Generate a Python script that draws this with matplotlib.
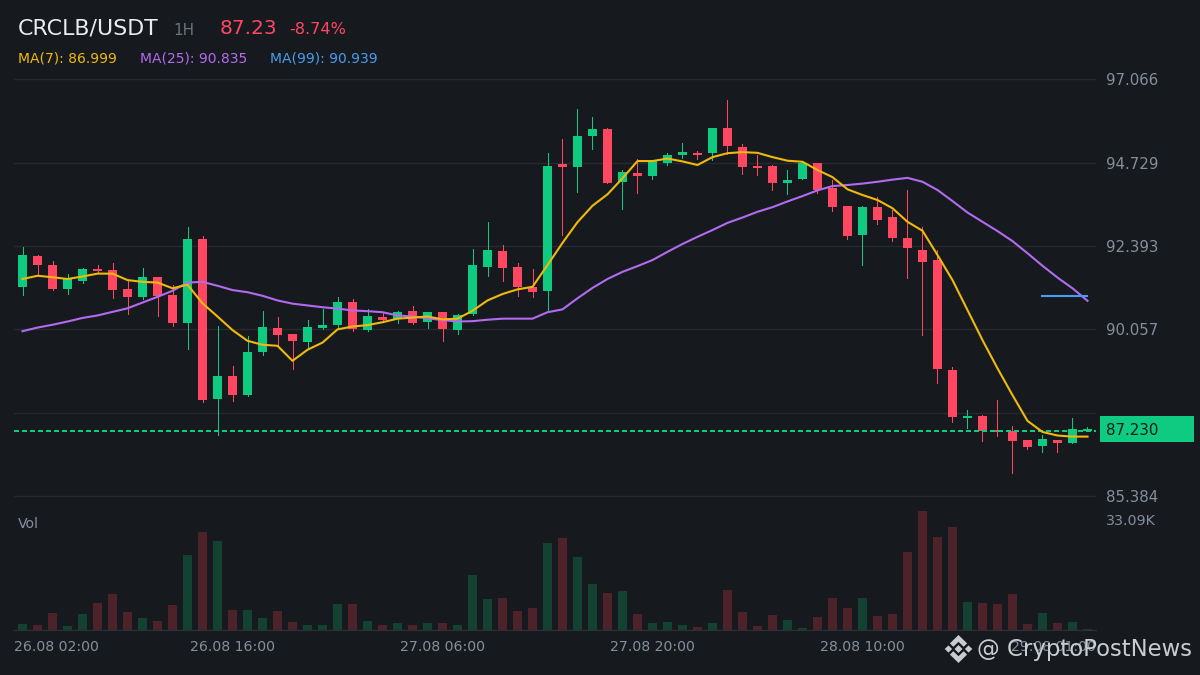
"""
CRCLB/USDT 1H candlestick chart with moving averages and a volume panel.
"""

import matplotlib
matplotlib.use("Agg")
import matplotlib.pyplot as plt
from matplotlib.patches import Polygon, Rectangle

# -----------------------------
# Data
# -----------------------------
opens = [
    91.25, 92.11, 91.86, 91.19, 91.41, 91.75, 91.72, 91.19, 90.97, 91.53, 91.02, 90.24,
    92.59, 88.11, 88.76, 88.22, 89.43, 90.10, 89.93, 89.71, 90.10, 90.18, 90.83, 90.04,
    90.41, 90.35, 90.58, 90.27, 90.55, 90.04, 90.49, 91.81, 92.25, 91.81, 91.25, 91.13,
    94.69, 94.60, 95.47, 95.67, 94.18, 94.44, 94.35, 94.72, 94.94, 94.99, 94.99, 95.70,
    95.16, 94.63, 94.63, 94.16, 94.27, 94.72, 94.02, 93.51, 92.70, 93.48, 93.20, 92.62,
    92.28, 92.00, 88.92, 87.58, 87.64, 87.25, 87.22, 86.97, 86.80, 86.97, 86.88, 87.22,
]
highs = [
    92.37, 92.14, 91.97, 91.61, 91.78, 91.86, 91.92, 91.44, 91.78, 91.53, 91.30, 92.93,
    92.67, 90.15, 89.04, 89.88, 90.58, 90.41, 89.93, 90.32, 90.63, 90.97, 90.91, 90.63,
    90.52, 90.58, 90.71, 90.55, 90.55, 90.49, 92.31, 93.06, 92.42, 91.92, 91.75, 94.99,
    95.39, 96.23, 96.00, 95.70, 94.52, 94.83, 94.80, 94.99, 95.28, 95.05, 95.70, 96.48,
    95.25, 94.94, 94.66, 94.52, 94.74, 94.72, 94.24, 93.51, 93.51, 93.77, 93.40, 93.96,
    92.93, 92.28, 89.01, 87.80, 87.66, 88.08, 87.36, 86.97, 87.10, 86.97, 87.58, 87.33,
]
lows = [
    91.02, 91.58, 91.16, 91.05, 91.36, 91.64, 90.94, 90.49, 90.91, 90.43, 90.15, 89.51,
    88.03, 87.10, 88.06, 88.20, 89.34, 89.62, 88.95, 89.54, 90.07, 90.07, 90.01, 90.01,
    90.27, 90.24, 90.21, 90.10, 89.74, 89.93, 90.46, 91.55, 91.41, 90.99, 90.97, 90.55,
    92.70, 93.90, 95.11, 94.16, 93.43, 93.88, 94.27, 94.66, 94.86, 94.83, 94.80, 94.97,
    94.41, 94.38, 93.96, 93.85, 94.27, 93.88, 93.37, 92.59, 91.86, 93.01, 92.53, 91.50,
    89.90, 88.56, 87.47, 87.30, 86.94, 87.08, 86.04, 86.71, 86.63, 86.63, 86.88, 87.22,
]
closes = [
    92.14, 91.86, 91.19, 91.47, 91.75, 91.69, 91.16, 90.97, 91.53, 90.99, 90.24, 92.59,
    88.08, 88.76, 88.22, 89.43, 90.13, 89.90, 89.74, 90.13, 90.18, 90.83, 90.07, 90.43,
    90.32, 90.55, 90.24, 90.55, 90.07, 90.46, 91.86, 92.28, 91.78, 91.25, 91.11, 94.63,
    94.60, 95.47, 95.67, 94.16, 94.46, 94.35, 94.77, 94.94, 95.02, 94.94, 95.70, 95.19,
    94.60, 94.58, 94.16, 94.24, 94.72, 93.96, 93.48, 92.67, 93.48, 93.12, 92.62, 92.34,
    91.95, 88.95, 87.61, 87.64, 87.22, 87.19, 86.94, 86.77, 87.00, 86.88, 87.27, 87.27,
]
volumes = [
    1.68, 1.40, 4.77, 1.12, 4.49, 7.57, 10.09, 5.05, 3.36, 2.52, 7.01, 20.75,
    27.20, 24.68, 5.61, 5.61, 3.36, 5.33, 2.24, 1.40, 1.40, 7.29, 7.29, 2.52,
    1.40, 1.96, 1.40, 1.96, 1.96, 1.40, 15.42, 8.69, 8.97, 5.33, 6.17, 24.11,
    25.52, 20.19, 12.90, 10.37, 10.94, 4.49, 1.96, 2.24, 1.40, 0.84, 1.96, 11.22,
    5.05, 1.12, 4.21, 2.80, 0.56, 3.65, 8.97, 6.17, 8.97, 3.93, 4.49, 21.59,
    33.09, 25.80, 28.60, 7.85, 7.57, 7.29, 10.09, 1.68, 4.77, 1.96, 2.24, 0.28,
]
ma7 = [
    91.47, 91.56, 91.52, 91.47, 91.54, 91.62, 91.62, 91.44, 91.39, 91.37, 91.21, 91.31,
    90.79, 90.42, 90.04, 89.74, 89.63, 89.60, 89.18, 89.49, 89.69, 90.06, 90.14, 90.18,
    90.26, 90.36, 90.39, 90.42, 90.34, 90.36, 90.58, 90.87, 91.05, 91.18, 91.25, 91.86,
    92.48, 93.06, 93.52, 93.84, 94.29, 94.77, 94.77, 94.84, 94.76, 94.66, 94.88, 94.99,
    95.02, 95.00, 94.88, 94.78, 94.75, 94.52, 94.32, 93.98, 93.82, 93.68, 93.45, 93.07,
    92.82, 92.14, 91.44, 90.60, 89.76, 88.97, 88.22, 87.50, 87.19, 87.09, 87.06, 87.06,
]
ma25 = [
    90.01, 90.11, 90.19, 90.28, 90.38, 90.45, 90.55, 90.65, 90.81, 90.97, 91.14, 91.37,
    91.39, 91.28, 91.16, 91.10, 91.00, 90.87, 90.78, 90.73, 90.68, 90.64, 90.59, 90.57,
    90.54, 90.45, 90.42, 90.37, 90.32, 90.28, 90.29, 90.33, 90.36, 90.36, 90.36, 90.54,
    90.62, 90.93, 91.22, 91.47, 91.67, 91.83, 92.00, 92.23, 92.45, 92.65, 92.84, 93.04,
    93.19, 93.35, 93.48, 93.64, 93.79, 93.95, 94.07, 94.10, 94.14, 94.19, 94.25, 94.30,
    94.19, 93.96, 93.65, 93.33, 93.07, 92.81, 92.53, 92.19, 91.84, 91.51, 91.21, 90.86,
]
# MA(99) only has values for the last few candles
ma99_index = [68, 69, 70, 71]
ma99 = [90.99, 90.99, 90.99, 90.99]

price_ticks = [85.384, 87.720, 90.057, 92.393, 94.729, 97.066]
price_labels = ["85.384", "", "90.057", "92.393", "94.729", "97.066"]
time_index = [0, 14, 28, 42, 56, 71]
time_labels = ["26.08 02:00", "26.08 16:00", "27.08 06:00",
               "27.08 20:00", "28.08 10:00", "29.08 01:00"]
last_price = 87.23

# -----------------------------
# Colours
# -----------------------------
BG = "#161A1F"
GREEN = "#0ECB81"
RED = "#FF4761"
GREEN_VOL = "#134232"
RED_VOL = "#4D2229"
GRID = "#26292E"
MUTED = "#848E9C"
YELLOW = "#F0B90B"
PURPLE = "#B26BF0"
BLUE = "#4A9CF0"

W, H = 1200, 675


def px_box(left, top, right, bottom):
    # axes rectangle from pixel edges, origin top left
    return [left / W, 1 - bottom / H, (right - left) / W, (bottom - top) / H]


def px(x, y):
    return x / W, 1 - y / H


plt.rcParams["font.family"] = "DejaVu Sans"
fig = plt.figure(figsize=(12, 6.75), dpi=100, facecolor=BG)
ax = fig.add_axes(px_box(14, 75, 1096, 500.5), facecolor=BG)
ax_vol = fig.add_axes(px_box(14, 511, 1096, 630), facecolor="none")

index = list(range(len(closes)))
xlim = (-0.56667, 71.56667)

# -----------------------------
# Candles
# -----------------------------
candle_colors = [GREEN if c >= o else RED for o, c in zip(opens, closes)]
volume_colors = [GREEN_VOL if c >= o else RED_VOL for o, c in zip(opens, closes)]

ax.vlines(index, lows, highs, colors=candle_colors, linewidth=0.65,
          antialiased=False, zorder=2)
ax.bar(index, [abs(c - o) for o, c in zip(opens, closes)],
       bottom=[min(o, c) for o, c in zip(opens, closes)],
       width=0.6, color=candle_colors, linewidth=0, zorder=3)

ax.plot(index, ma25, color=PURPLE, linewidth=1.5, zorder=4)
ax.plot(ma99_index, ma99, color=BLUE, linewidth=1.5, zorder=4)
ax.plot(index, ma7, color=YELLOW, linewidth=1.5, zorder=5)
ax.axhline(last_price, color=GREEN, linewidth=1.1, dashes=(3.0, 2.2),
           antialiased=False, zorder=4)

ax.set_xlim(xlim)
ax.set_ylim(85.272, 97.178)
ax.set_xticks([])
ax.set_yticks(price_ticks, price_labels)
ax.yaxis.tick_right()
ax.tick_params(axis="y", length=0, pad=7, labelsize=10.8, labelcolor=MUTED)
ax.grid(axis="y", color=GRID, linewidth=1.0, zorder=1)
for spine in ax.spines.values():
    spine.set_visible(False)

# -----------------------------
# Volume panel
# -----------------------------
ax_vol.bar(index, volumes, width=0.6, color=volume_colors, linewidth=0)
ax_vol.set_xlim(xlim)
ax_vol.set_ylim(0, 33.09)
ax_vol.set_xticks([])
ax_vol.set_yticks([])
for name, spine in ax_vol.spines.items():
    spine.set_visible(name == "bottom")
ax_vol.spines["bottom"].set_color("#2B2F36")
ax_vol.spines["bottom"].set_linewidth(0.9)

# time labels sit under the panel, the first and last are kept inside it
for i, label in zip(time_index, time_labels):
    if i == time_index[0]:
        ax_vol.text(0, -17 / 119, label, transform=ax_vol.transAxes, ha="left",
                    va="center", color=MUTED, fontsize=10.2)
    elif i == time_index[-1]:
        ax_vol.text(1, -17 / 119, label, transform=ax_vol.transAxes, ha="right",
                    va="center", color=MUTED, fontsize=10.2)
    else:
        ax_vol.text(i, -17 / 119, label, transform=ax_vol.get_xaxis_transform(), ha="center",
                    va="center", color=MUTED, fontsize=10.2)

# -----------------------------
# Header and labels
# -----------------------------
fig.text(*px(18, 34), "CRCLB/USDT", color="#EAECEF", fontsize=15.9)
fig.text(*px(173, 35), "1H", color="#6A7280", fontsize=11)
fig.text(*px(220, 34), "87.23", color=RED, fontsize=14.5)
fig.text(*px(289, 34.5), "-8.74%", color=RED, fontsize=11.6)
fig.text(*px(18, 62), "MA(7): 86.999", color=YELLOW, fontsize=10)
fig.text(*px(140, 62), "MA(25): 90.835", color=PURPLE, fontsize=10)
fig.text(*px(270, 62), "MA(99): 90.939", color=BLUE, fontsize=10)
fig.text(*px(18, 527.5), "Vol", color=MUTED, fontsize=10.1)
fig.text(*px(1106, 525), "33.09K", color=MUTED, fontsize=10.3)

# price tag on the right
fig.add_artist(Rectangle(px(1100, 442), 94 / W, 26 / H, transform=fig.transFigure,
                         facecolor=GREEN, edgecolor="none"))
fig.text(*px(1106, 435), "87.230", color="#161A1F", fontsize=10.8)

# -----------------------------
# Watermark
# -----------------------------
logo_color = "#C9CCD0"
logo_cx, logo_cy = 958.5, 649


def logo_shape(points):
    fig.add_artist(Polygon([px(logo_cx + dx, logo_cy + dy) for dx, dy in points],
                           closed=True, transform=fig.transFigure,
                           facecolor=logo_color, edgecolor="none"))


logo_shape([(0, -4), (4, 0), (0, 4), (-4, 0)])
logo_shape([(-10, -3.6), (-6.4, 0), (-10, 3.6), (-13.8, 0)])
logo_shape([(10, -3.6), (13.8, 0), (10, 3.6), (6.4, 0)])
logo_shape([(0, -14), (8.6, -5.6), (5.2, -2.2), (0, -7.2), (-5.2, -2.2), (-8.6, -5.6)])
logo_shape([(0, 14), (8.6, 5.6), (5.2, 2.2), (0, 7.2), (-5.2, 2.2), (-8.6, 5.6)])

fig.text(*px(977, 656), "@ CryptoPostNews", color="#C9CCD0", fontsize=16.35, zorder=10)

fig.savefig("out.png", dpi=100, facecolor=BG)
